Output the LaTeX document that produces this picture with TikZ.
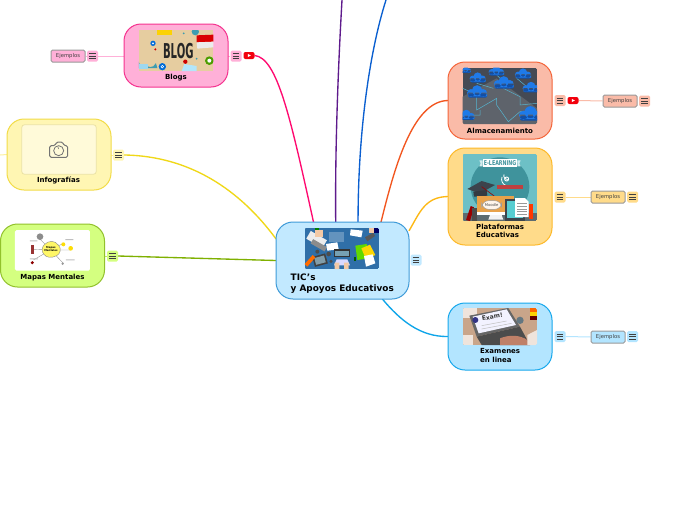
\documentclass[tikz,border=0pt]{standalone}
\usepackage{fontspec}
\setmainfont{DejaVu Sans}
\usetikzlibrary{calc}
\pgfdeclarelayer{bg}\pgfsetlayers{bg,main}
\definecolor{cenF}{HTML}{C2E9FF}\definecolor{cenD}{HTML}{3F9BD8}
\definecolor{blgF}{HTML}{FFB0D8}\definecolor{blgD}{HTML}{F5338F}\definecolor{blgL}{HTML}{FF0A70}
\definecolor{infF}{HTML}{FFF6B3}\definecolor{infD}{HTML}{F2DC48}\definecolor{infL}{HTML}{F0D818}
\definecolor{mapF}{HTML}{D4FF80}\definecolor{mapD}{HTML}{92C12C}\definecolor{mapL}{HTML}{7FB000}
\definecolor{almF}{HTML}{FABBA8}\definecolor{almD}{HTML}{F4653A}\definecolor{almL}{HTML}{F2561F}
\definecolor{plaF}{HTML}{FFDB8A}\definecolor{plaD}{HTML}{FDB92A}\definecolor{plaL}{HTML}{FDB813}
\definecolor{exaF}{HTML}{B3E5FF}\definecolor{exaD}{HTML}{17A8EC}\definecolor{exaL}{HTML}{0EA5E9}
\definecolor{purL}{HTML}{5E1A8C}\definecolor{bluL}{HTML}{0A5FD0}
\definecolor{skin}{HTML}{F3C9A5}
\definecolor{cenBg}{HTML}{2F6FA8}
\definecolor{stoTop}{HTML}{454A54}\definecolor{stoLow}{HTML}{5E636B}
\definecolor{cloudA}{HTML}{1F7AE8}\definecolor{cloudB}{HTML}{124FA6}\definecolor{stoLine}{HTML}{56B4D0}
\definecolor{elBg}{HTML}{6DC0C6}\definecolor{elGlobe}{HTML}{3F939C}\definecolor{elGround}{HTML}{5D6B70}
\definecolor{elCap}{HTML}{3C444C}\definecolor{elMon}{HTML}{E8A24A}
\definecolor{blogBg}{HTML}{E6CDA0}\definecolor{blogTeal}{HTML}{3E9DB0}
\definecolor{exBg}{HTML}{C9A58A}\definecolor{exHand}{HTML}{BF8068}
\tikzset{
  topicbox/.style={draw,rounded corners=17pt,line width=1pt,inner sep=0pt,outer sep=0pt},
  exbox/.style={draw=black!40,line width=1pt,rounded corners=1.5pt,minimum width=34pt,minimum height=12pt,inner sep=0pt,font=\fontsize{5.3}{6}\selectfont,text=black!75},
  toptext/.style={font=\bfseries\fontsize{7}{8.3}\selectfont,align=left,inner sep=0pt,text=black},
  centext/.style={font=\bfseries\fontsize{8.9}{11}\selectfont,align=left,inner sep=0pt,text=black},
  menubox/.style={rounded corners=1.5pt,minimum width=11pt,minimum height=11pt,inner sep=0pt},
  ytbox/.style={fill=red!95!blue,rounded corners=2pt,minimum width=11pt,minimum height=7pt,inner sep=0pt},
  link/.style={line width=1.35pt},
  sublink/.style={line width=1pt},
  zoomed/.style={x=.33333pt,y=-.33333pt}
}
\newcommand{\menuicon}[4]{%
  \node[menubox,fill=#4] (#1) at (#2,#3) {};
  \draw[black!75,line width=.5pt] ($(#1.center)+(-3.4pt,-2.6pt)$)--+(6.8pt,0pt) ($(#1.center)+(-3.4pt,0pt)$)--+(6.8pt,0pt) ($(#1.center)+(-3.4pt,2.6pt)$)--+(6.8pt,0pt);}
\newcommand{\yticon}[3]{%
  \node[ytbox] (#1) at (#2,#3) {};
  \fill[white] ($(#1.center)+(-1.2pt,-1.5pt)$)--+(3pt,1.5pt)--+(0pt,3pt)--cycle;}
\newcommand{\cloudshape}[3]{% x y scale (zoom units)
  \fill[cloudB,rounded corners=2pt] (#1-20*#3,#2+4*#3) rectangle (#1+24*#3,#2+14*#3);
  \fill[cloudA] (#1-13*#3,#2+3*#3) circle (9*#3) (#1+1*#3,#2-3*#3) circle (12*#3) (#1+15*#3,#2+3*#3) circle (9*#3) (#1-20*#3,#2+2*#3) rectangle (#1+24*#3,#2+11*#3);}
\begin{document}
\begin{tikzpicture}[x=1pt,y=-1pt]
\useasboundingbox (0,0) rectangle (697,520);
% ---------- nodes ----------
\node[topicbox,minimum width=133pt,minimum height=77pt,fill=cenF,draw=cenD] (central) at (342.5,260.5) {};
\node[topicbox,minimum width=104pt,minimum height=63pt,fill=blgF,draw=blgD] (blogs) at (176,55.5) {};
\node[topicbox,minimum width=104pt,minimum height=71pt,fill=infF,draw=infD] (info) at (59,154.5) {};
\node[topicbox,minimum width=104pt,minimum height=63pt,fill=mapF,draw=mapD] (mapas) at (52.5,255.5) {};
\node[topicbox,minimum width=104pt,minimum height=77pt,fill=almF,draw=almD] (alma) at (500,100.5) {};
\node[topicbox,minimum width=104pt,minimum height=97pt,fill=plaF,draw=plaD] (plat) at (500,196.5) {};
\node[topicbox,minimum width=104pt,minimum height=67pt,fill=exaF,draw=exaD] (exam) at (500,336.5) {};
\node[exbox,fill=blgF] (exblog) at (68,56) {Ejemplos};
\node[exbox,fill=almF] (exalma) at (620,101) {Ejemplos};
\node[exbox,fill=plaF] (explat) at (608,197) {Ejemplos};
\node[exbox,fill=exaF] (exexam) at (608,337) {Ejemplos};
\coordinate (topA) at (342,0);
\coordinate (topB) at (386,0);
\coordinate (leftstub) at (0,155);
\menuicon{mBlogL}{92.5}{56}{blgF}
\menuicon{mBlogR}{236}{56}{blgF}
\yticon{ytBlog}{249}{55.5}
\menuicon{mInfo}{118.5}{155}{infF}
\menuicon{mMapas}{112.5}{256}{mapF}
\menuicon{mCen}{416}{260}{cenF}
\menuicon{mAlma}{560}{100.5}{almF}
\yticon{ytAlma}{573}{100.5}
\menuicon{mAlmaE}{644.5}{101}{almF}
\menuicon{mPlat}{560}{197}{plaF}
\menuicon{mPlatE}{632.5}{197}{plaF}
\menuicon{mExam}{560}{336.5}{exaF}
\menuicon{mExamE}{632.5}{336.5}{exaF}
% ---------- connectors ----------
\begin{pgfonlayer}{bg}
\fill[white] (0,0) rectangle (697,520);
\draw[link,draw=blgL] (ytBlog.east) .. controls (277,58) and (290,115) .. (central.127.5);
\draw[link,draw=infL] (mInfo.east) .. controls (190,156) and (240,190) .. (central.162);
\draw[link,draw=mapL] (mMapas.east) -- (central.west);
\draw[link,draw=purL] (topA) .. controls (338,70) and (335,150) .. (central.100);
\draw[link,draw=bluL] (topB) .. controls (370,50) and (358,130) .. (central.68);
\draw[link,draw=almL] (central.45.8) .. controls (394,170) and (412,101) .. (alma.west);
\draw[link,draw=plaL] (central.24) .. controls (420,212) and (425,197) .. (plat.west);
\draw[link,draw=exaL] (central.-44.3) .. controls (400,320) and (420,337) .. (exam.west);
\draw[sublink,draw=blgF] (mBlogL.east) -- (blogs.west |- mBlogL.east);
\draw[sublink,draw=blgF] (exblog.east) -- (mBlogL.west);
\draw[sublink,draw=blgF] (blogs.east |- mBlogR.west) -- (mBlogR.west);
\draw[sublink,draw=infF!80!infD] (leftstub) -- (info.west);
\draw[sublink,draw=infF!80!infD] (info.east |- mInfo.west) -- (mInfo.west);
\draw[sublink,draw=mapF!70!mapD] (mapas.east |- mMapas.west) -- (mMapas.west);
\draw[sublink,draw=almF] (ytAlma.east) -- (exalma.west);
\draw[sublink,draw=plaF] (mPlat.east) -- (explat.west);
\draw[sublink,draw=exaF] (mExam.east) -- (exexam.west);
\end{pgfonlayer}
% ---------- central image (zoom 2) ----------
\begin{scope}[shift={(270,200)},zoomed]
\clip[rounded corners=1.5pt] (104,83) rectangle (327,207);
\fill[cenBg] (104,83) rectangle (327,207);
\fill[white!85!gray,rotate around={-30:(140,118)}] (112,105) rectangle (168,132);
\fill[black!45,rotate around={-30:(140,135)}] (122,125) rectangle (170,140);
\fill[skin] (134,90) rectangle (160,112);
\fill[green!50!black] (135,83) rectangle (148,90);
\fill[cenBg!75!white] (178,97) rectangle (222,125);
\fill[white] (242,88) -- (278,92) -- (274,112) -- (240,106) -- cycle;
\fill[black!65] (285,112) -- (310,98) -- (315,108) -- (292,124) -- cycle;
\fill[skin] (296,85) rectangle (312,100);
\fill[black!60!blue] (312,83) rectangle (327,100);
\fill[white] (168,132) -- (202,127) -- (206,148) -- (172,152) -- cycle;
\fill[green!55!yellow!85!black] (256,137) -- (290,132) -- (298,175) -- (262,180) -- cycle;
\fill[yellow!75!orange] (274,145) -- (300,134) -- (316,165) -- (288,178) -- cycle;
\fill[white] (282,168) -- (308,163) -- (316,190) -- (288,200) -- cycle;
\fill[black!80] (192,148) rectangle (240,172);
\fill[cyan!35!gray] (196,152) rectangle (236,168);
\fill[white!85!blue] (200,178) -- (232,178) -- (240,196) -- (192,196) -- cycle;
\fill[skin] (194,188) rectangle (208,207) (222,188) rectangle (236,207);
\fill[black!75,rotate around={15:(150,180)}] (130,165) rectangle (170,196);
\fill[cyan!25!gray,rotate around={15:(150,180)}] (135,170) rectangle (165,191);
\fill[orange!85!red] (104,192) -- (128,165) -- (136,172) -- (112,200) -- cycle;
\fill[black!70] (142,155) circle (6) (176,162) circle (7) (183,184) circle (5);
\fill[green!35!black] (252,170) rectangle (258,182);
\end{scope}
% ---------- blog image (zoom 1) ----------
\begin{scope}[zoomed]
\clip (417,90) rectangle (640,213);
\fill[blogBg] (417,90) rectangle (640,213);
\fill[blogTeal] (415,204) -- (415,180) arc[start angle=180,end angle=70,radius=20] arc[start angle=120,end angle=20,radius=18] -- (472,204) -- cycle;
\fill[cyan!40!white!90!gray] (417,192) rectangle (445,207);
\fill[yellow!70!orange] (472,90) rectangle (516,104);
\fill[blogTeal] (586,95) circle (11);
\fill[red!85!black] (590,106) -- (640,104) -- (640,125) -- (590,127) -- cycle;
\fill[white!85!gray] (590,127) -- (640,125) -- (640,142) -- (592,146) -- cycle;
\fill[green!45!black!70!yellow] (628,182) circle (13);
\fill[white] (628,182) circle (6);
\fill[blue!50!cyan!85!black] (459,130) circle (8);
\fill[white] (459,130) circle (3);
\fill[blue!50!cyan!85!black] (487,200) circle (11);
\fill[white] (487,200) circle (5);
\fill[blue!50!cyan!85!black] (487,200) circle (2);
\fill[red!80!black] (556,185) circle (6.5) (466,148) circle (3.5);
\fill[blogTeal] (551,100) circle (3) (590,176) circle (3);
\fill[white!70!cyan] (553,192) -- (590,198) -- (590,213) -- (545,213) -- cycle;
\node[inner sep=0pt] (blogword) at (535,152) {\scalebox{.49}[1]{\bfseries\fontsize{20.5}{20.5}\selectfont\color{black!85}BLOG}};
\end{scope}
% ---------- infographic placeholder (zoom 1) ----------
\begin{scope}[zoomed]
\draw[draw=black!8!infF,fill=infF!50!white,line width=.8pt,rounded corners=3pt] (65,374) rectangle (289,523);
\draw[black!55,line width=1pt,rounded corners=1.5pt,fill=infF!50!white] (149,437) -- (165,437) -- (170,426) -- (188,426) -- (192,437) -- (203,437) -- (203,472) -- (149,472) -- cycle;
\draw[black!55,line width=.8pt] (176,452) circle (15);
\draw[black!55,line width=.6pt] (176,447) arc[start angle=120,end angle=200,radius=6];
\end{scope}
% ---------- mind-map thumbnail (zoom 6) ----------
\begin{scope}[shift={(0,215)},zoomed]
\fill[white,rounded corners=1.5pt] (45,45) rectangle (270,167);
\draw[black!40,line width=.4pt] (152,105) -- (120,72) (152,105) -- (100,103) (152,105) -- (100,135) (152,105) -- (190,85) (152,105) -- (212,105) (152,105) -- (190,145);
\fill[black!45] (120,65) circle (10);
\fill[red!50!black!80] (93,90) rectangle (103,116);
\fill[red!55!black] (97,143) circle (5);
\fill[yellow!80!orange] (190,88) circle (6) (212,100) circle (7);
\fill[black!40] (188,146) circle (4);
\fill[black!25] (90,76) rectangle (112,79) (196,72) rectangle (220,75) (90,130) rectangle (114,133) (198,133) rectangle (224,136);
\filldraw[fill=yellow!60!white,draw=black!45,line width=.4pt] (132,90) .. controls (145,75) and (165,76) .. (175,90) .. controls (186,100) and (180,118) .. (170,122) .. controls (155,130) and (138,128) .. (132,118) .. controls (124,110) and (125,98) .. (132,90) -- cycle;
\node[inner sep=0pt,font=\bfseries\fontsize{2.6}{3}\selectfont,align=center] (mapword) at (153,102) {Mapas\\Mentales};
\end{scope}
% ---------- storage image (zoom 3) ----------
\begin{scope}[shift={(440,55)},zoomed]
\clip[rounded corners=1.5pt] (68,38) rectangle (291,207);
\fill[stoTop] (68,38) rectangle (291,207);
\fill[stoLow] (68,125) -- (170,70) -- (291,160) -- (291,207) -- (68,207) -- cycle;
\draw[stoLine,line width=.5pt] (110,120) -- (110,165) -- (170,130) -- (170,150) -- (205,200) -- (240,170) -- (291,170) (190,100) -- (240,125) -- (240,150) -- (291,145) (100,180) -- (120,180) -- (120,165) (110,85) -- (160,100) (230,70) -- (260,95) (170,60) -- (190,80) (68,100) -- (90,110);
\cloudshape{110}{110}{1.3}
\cloudshape{190}{83}{1.3}
\cloudshape{112}{68}{1.05}
\cloudshape{168}{48}{1.0}
\cloudshape{248}{56}{1.05}
\cloudshape{272}{97}{1.1}
\cloudshape{78}{180}{1.05}
\cloudshape{270}{176}{1.5}
\cloudshape{76}{44}{.7}
\end{scope}
% ---------- e-learning image (zoom 4) ----------
\begin{scope}[shift={(440,145)},zoomed]
\clip[rounded corners=1.5pt] (68,26) rectangle (291,228);
\fill[elBg] (68,26) rectangle (291,228);
\fill[elGlobe] (180,125) circle (88);
\fill[elGround] (68,205) rectangle (291,228);
\fill[white] (128,43) rectangle (232,66);
\fill[white!70!elBg] (118,46) -- (128,46) -- (128,64) -- (118,64) -- (122,55) -- cycle (232,46) -- (242,46) -- (238,55) -- (242,64) -- (232,64) -- cycle;
\node[inner sep=0pt] (elword) at (180,54) {\scalebox{.72}[1]{\bfseries\fontsize{6.6}{7}\selectfont\color{elGlobe}E-LEARNING}};
\draw[white,line width=.8pt] (192,88) arc[start angle=200,end angle=90,radius=12] (186,96) arc[start angle=200,end angle=80,radius=20];
\draw[white,line width=.9pt] (200,102) circle (6);
\fill[red!50!gray] (170,121) rectangle (248,132);
\fill[elCap] (82,132) -- (125,108) -- (165,120) -- (120,145) -- cycle;
\fill[elCap!85!black] (100,140) -- (140,135) -- (142,152) -- (102,155) -- cycle;
\draw[red!60!black,line width=.6pt] (125,125) -- (165,155);
\fill[elMon] (112,153) rectangle (222,200);
\fill[white] (112,200) rectangle (222,210);
\fill[white!90!gray] (150,210) -- (185,210) -- (190,224) -- (145,224) -- cycle;
\filldraw[fill=white!92!orange,draw=black!40,line width=.4pt,rounded corners=7pt] (125,167) rectangle (185,193);
\node[inner sep=0pt] (moodleword) at (155,180) {\fontsize{3.8}{4}\selectfont\color{black!70}Moodle};
\filldraw[fill=elCap,draw=elCap] (196,163) rectangle (252,226);
\fill[elBg!80!cyan] (200,168) rectangle (248,220);
\fill[white] (225,159) -- (255,159) -- (266,170) -- (266,216) -- (225,216) -- cycle;
\foreach \yy in {176,184,192,200,208} \draw[black!40,line width=.5pt] (232,\yy) -- (260,\yy);
\fill[red!55!orange] (268,178) rectangle (278,222);
\fill[red!60!black] (78,225) -- (92,183) -- (102,187) -- (90,228) -- cycle;
\fill[black!70] (96,190) rectangle (110,228);
\end{scope}
% ---------- exam image (zoom 5) ----------
\begin{scope}[shift={(440,295)},zoomed]
\clip[rounded corners=1.5pt] (68,39) rectangle (291,150);
\fill[exBg] (68,39) rectangle (291,150);
\fill[white!70!exBg] (68,39) rectangle (110,70);
\fill[white!70!exBg] (68,120) rectangle (100,150);
\fill[black!60] (88,62) -- (205,39) -- (240,95) -- (110,125) -- cycle;
\fill[white!95!blue] (98,65) -- (200,43) -- (228,90) -- (116,115) -- cycle;
\fill[black!60!blue!80] (106,75) circle (9);
\node[inner sep=0pt,rotate=10] (examword) at (157,66) {\bfseries\fontsize{6}{6}\selectfont\color{black!80}Exam!};
\draw[black!25,line width=.5pt] (125,92) -- (200,78) (125,102) -- (215,85);
\fill[black!70] (110,125) -- (240,95) -- (270,150) -- (125,150) -- cycle;
\fill[exHand] (180,130) .. controls (210,118) and (240,120) .. (262,135) -- (270,150) -- (180,150) -- cycle;
\fill[cyan!30!black!80] (240,76) circle (11);
\fill[orange!80!red] (270,40) rectangle (291,52);
\fill[yellow!70!orange] (270,52) rectangle (291,64);
\fill[black!60!red] (270,64) rectangle (291,76);
\fill[white!70!exBg] (262,120) -- (291,105) -- (291,150) -- (262,150) -- cycle;
\end{scope}
% ---------- labels ----------
\node[centext,anchor=north west] (centxt) at (290.5,273.5) {TIC's\\y Apoyos Educativos};
\node[toptext] (blogtxt) at (176,77.5) {Blogs};
\node[toptext] (infotxt) at (58.5,180.5) {Infografías};
\node[toptext] (maptxt) at (52.5,277.5) {Mapas Mentales};
\node[toptext] (almtxt) at (500,130.5) {Almacenamiento};
\node[toptext,anchor=north west] (plattxt) at (476,223.5) {Plataformas\\Educativas};
\node[toptext,anchor=north west] (examtxt) at (480,348.5) {Examenes\\en linea};
\end{tikzpicture}
\end{document}
